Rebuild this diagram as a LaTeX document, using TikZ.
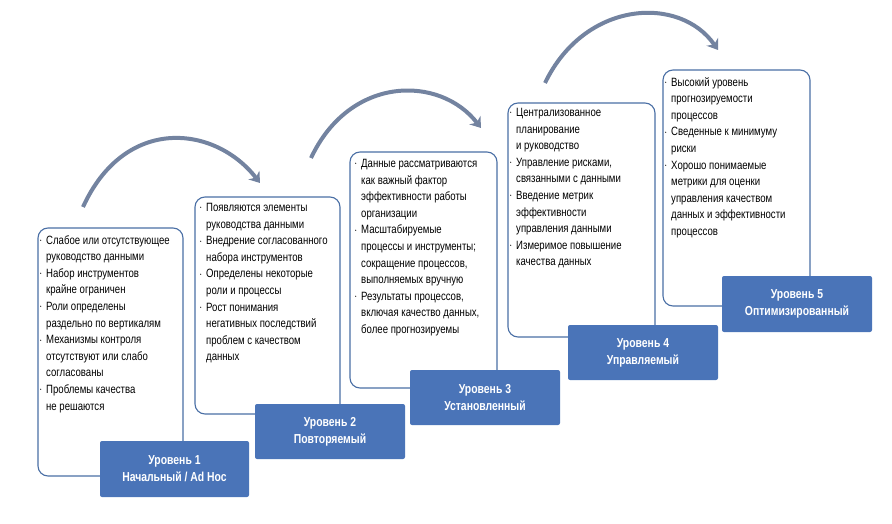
\documentclass[tikz,border=0pt]{standalone}
\usepackage{fontspec}
\setmainfont[FakeStretch=0.8]{Liberation Sans}
\usetikzlibrary{arrows.meta}
\definecolor{bord}{HTML}{4A6FA5}
\definecolor{lab}{HTML}{4A74B8}
\definecolor{arc}{HTML}{7383A0}
\newcommand{\bl}{\makebox[6pt][l]{\tiny\raisebox{1.5pt}{\textbullet}}}
\newcommand{\ct}{\hspace*{6pt}}
\tikzset{
 stagebox/.style={draw=bord,line width=1.1pt,rounded corners=10pt,fill=white},
 labbox/.style={fill=lab,rounded corners=2pt,text=white,font=\fontsize{13}{17}\selectfont\bfseries,align=center},
 txt/.style={anchor=north west,align=left,inner sep=0pt,font=\fontsize{12}{16.6}\selectfont},
 arcline/.style={draw=arc,line width=4pt,-{Stealth[length=10pt,width=14pt]}}
}
\begin{document}
\begin{tikzpicture}[x=1pt,y=-1pt]
\useasboundingbox (0,0) rectangle (892,524);
% arcs
\coordinate (a1s) at (83,207); \coordinate (a1e) at (260,183);
\coordinate (a2s) at (311,158); \coordinate (a2e) at (481,128);
\coordinate (a3s) at (545,83); \coordinate (a3e) at (718,50);
\draw[arcline] (a1s) .. controls (125,115) and (215,125) .. (a1e);
\draw[arcline] (a2s) .. controls (350,75) and (440,75) .. (a2e);
\draw[arcline] (a3s) .. controls (585,0) and (680,-5) .. (a3e);
% boxes
\draw[stagebox] (38,228) rectangle (183,476);
\draw[stagebox] (195,197) rectangle (340,414);
\draw[stagebox] (350,152) rectangle (497,388);
\draw[stagebox] (508,103) rectangle (655,337);
\draw[stagebox] (663,70) rectangle (810,306);
% texts
\node[txt] (t1) at (40,235) {\bl Слабое или отсутствующее\\\ct руководство данными\\\bl Набор инструментов\\\ct крайне ограничен\\\bl Роли определены\\\ct раздельно по вертикалям\\\bl Механизмы контроля\\\ct отсутствуют или слабо\\\ct согласованы\\\bl Проблемы качества\\\ct не решаются};
\node[txt] (t2) at (200,203) {\bl Появляются элементы\\\ct руководства данными\\\bl Внедрение согласованного\\\ct набора инструментов\\\bl Определены некоторые\\\ct роли и процессы\\\bl Рост понимания\\\ct негативных последствий\\\ct проблем с качеством\\\ct данных};
\node[txt] (t3) at (355,159) {\bl Данные рассматриваются\\\ct как важный фактор\\\ct эффективности работы\\\ct организации\\\bl Масштабируемые\\\ct процессы и инструменты;\\\ct сокращение процессов,\\\ct выполняемых вручную\\\bl Результаты процессов,\\\ct включая качество данных,\\\ct более прогнозируемы};
\node[txt] (t4) at (510,108) {\bl Централизованное\\\ct планирование\\\ct и руководство\\\bl Управление рисками,\\\ct связанными с данными\\\bl Введение метрик\\\ct эффективности\\\ct управления данными\\\bl Измеримое повышение\\\ct качества данных};
\node[txt] (t5) at (665,77) {\bl Высокий уровень\\\ct прогнозируемости\\\ct процессов\\\bl Сведенные к минимуму\\\ct риски\\\bl Хорошо понимаемые\\\ct метрики для оценки\\\ct управления качеством\\\ct данных и эффективности\\\ct процессов};
% labels
\node[labbox,minimum width=149pt,minimum height=56pt] (l1) at (174.5,469) {Уровень 1\\Начальный / Ad Hoc};
\node[labbox,minimum width=150pt,minimum height=55pt] (l2) at (330,431.5) {Уровень 2\\Повторяемый};
\node[labbox,minimum width=150pt,minimum height=55pt] (l3) at (485,397.5) {Уровень 3\\Установленный};
\node[labbox,minimum width=150pt,minimum height=55pt] (l4) at (643,352.5) {Уровень 4\\Управляемый};
\node[labbox,minimum width=150pt,minimum height=56pt] (l5) at (797,304) {Уровень 5\\Оптимизированный};
\end{tikzpicture}
\end{document}
